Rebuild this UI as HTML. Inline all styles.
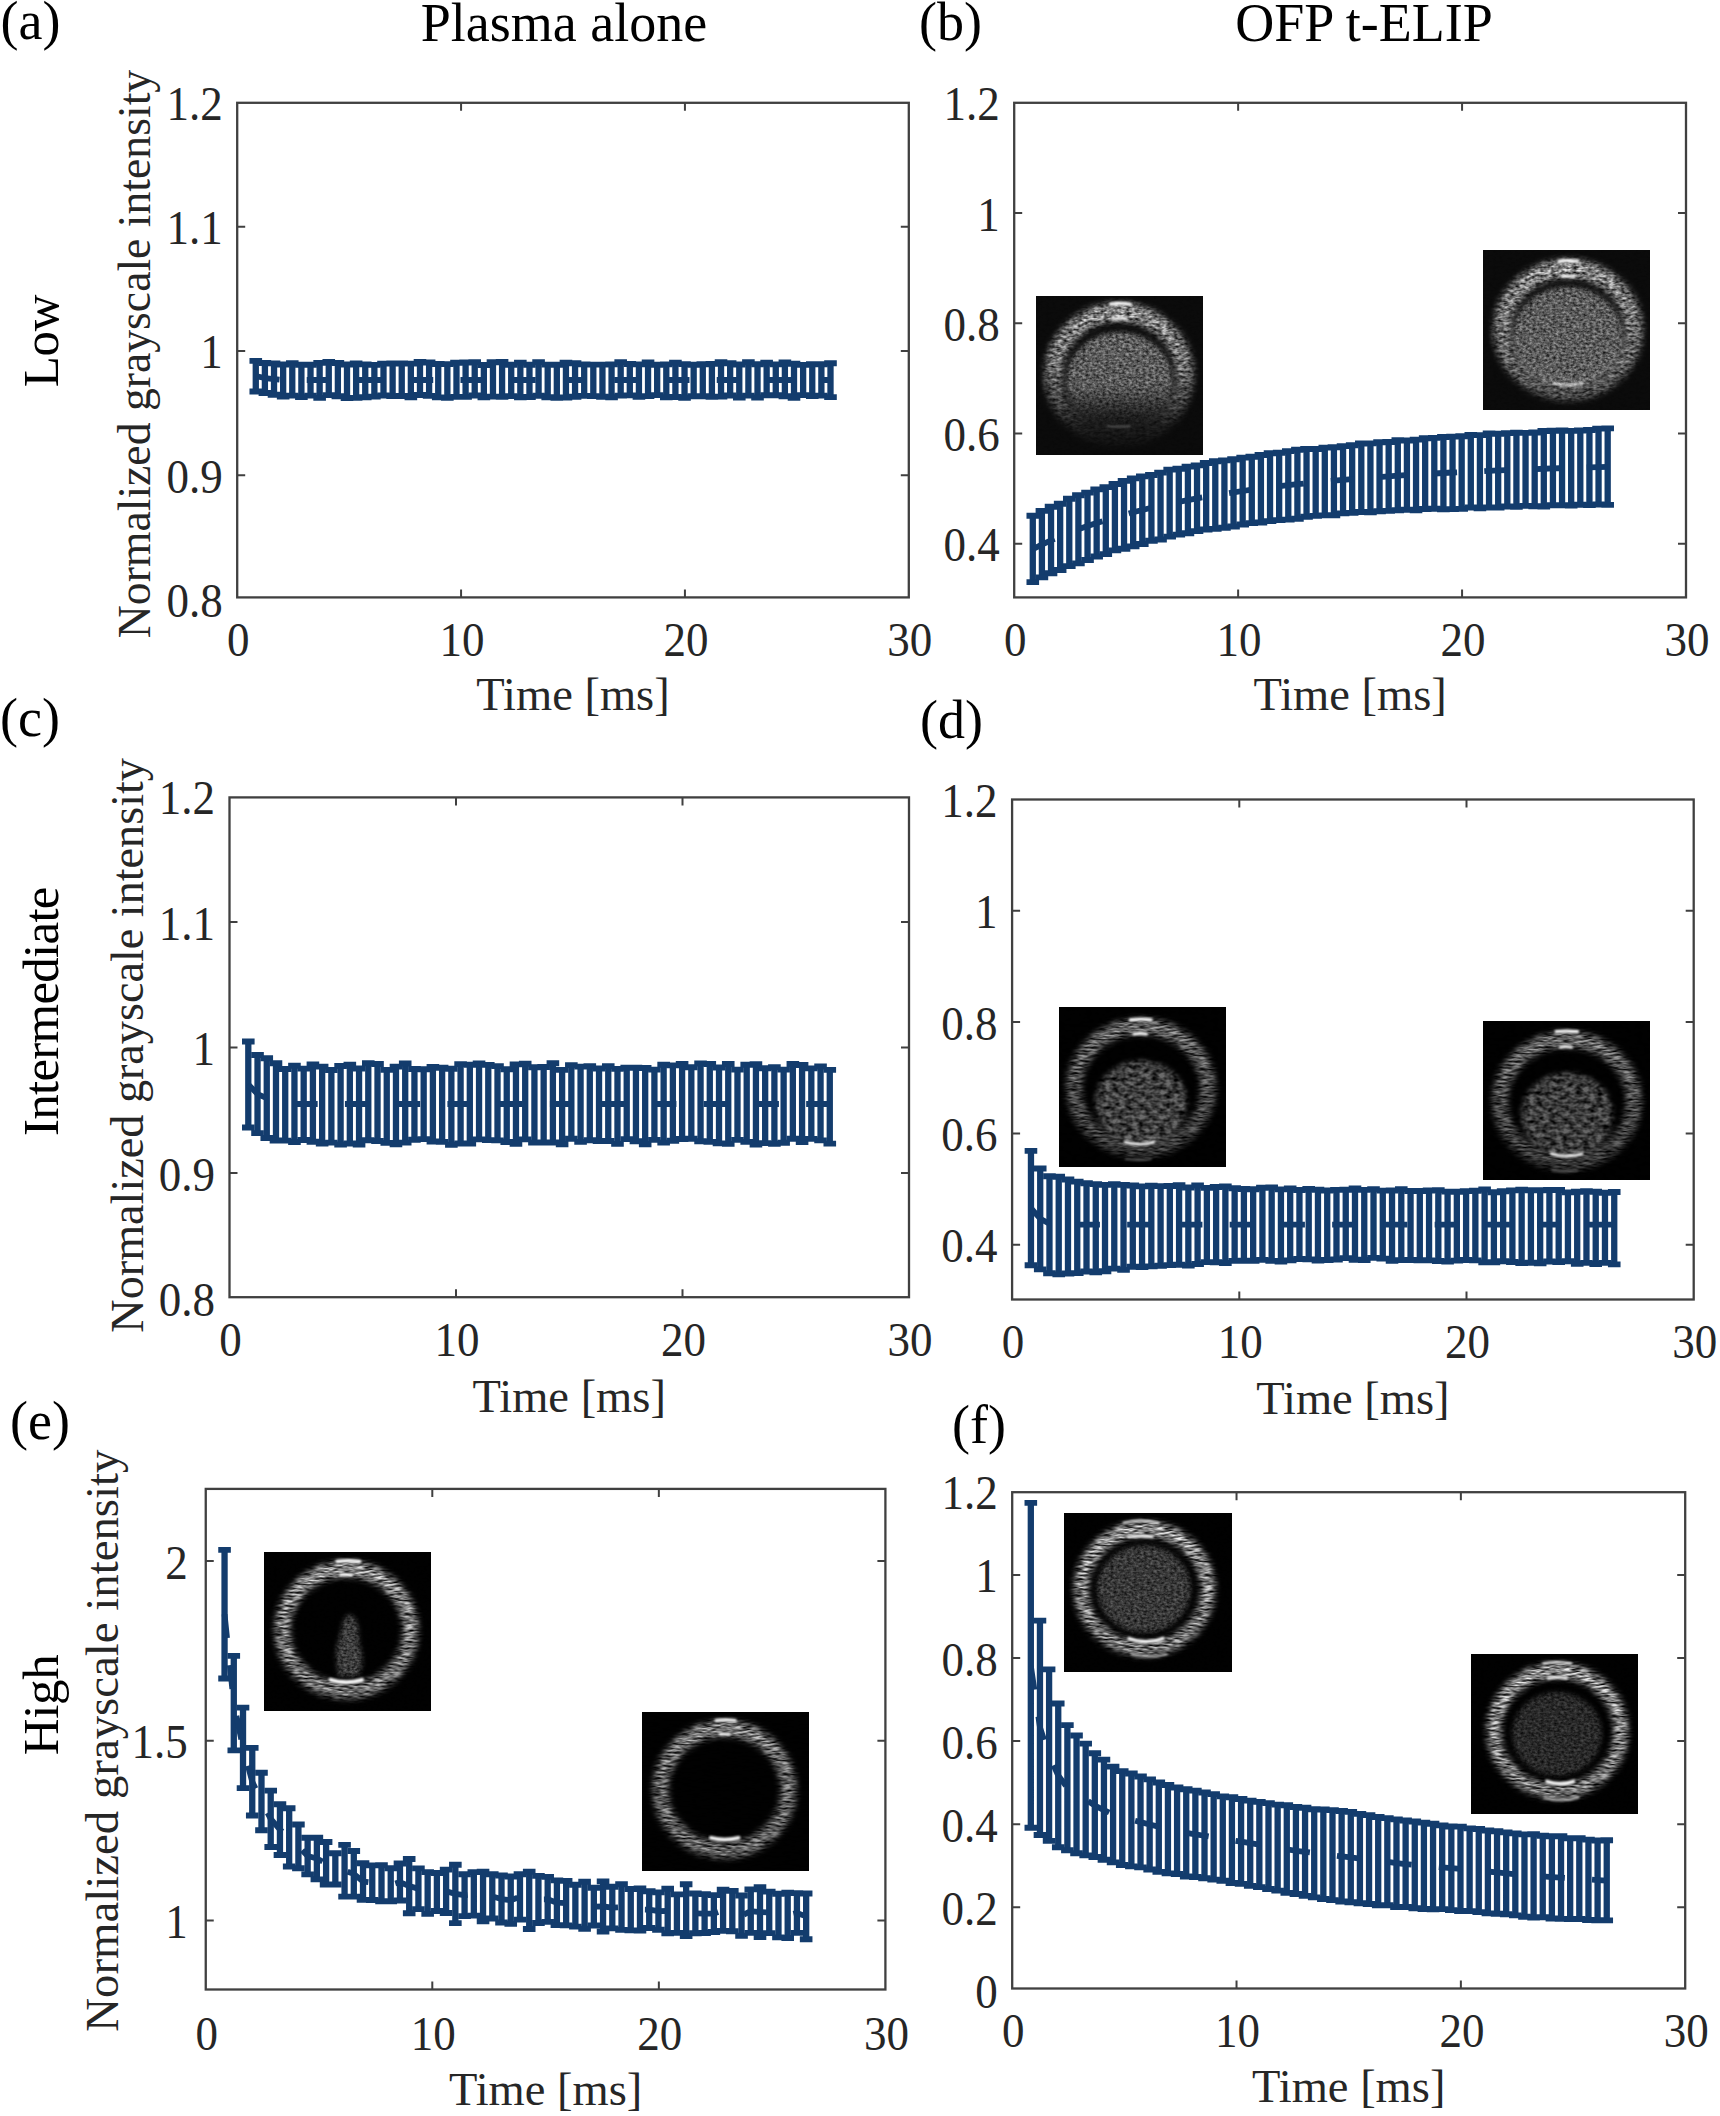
<!DOCTYPE html>
<html lang="en"><head><meta charset="utf-8"><title>Normalized grayscale intensity vs time</title>
<style>html,body{margin:0;padding:0;background:#fff}body{width:1720px;height:2116px;overflow:hidden}svg{display:block}text{font-family:"Liberation Serif", "DejaVu Serif", serif}</style></head><body>
<svg width="1720" height="2116" viewBox="0 0 1720 2116">
<defs>
<filter id="spkR" x="0" y="0" width="100%" height="100%" color-interpolation-filters="sRGB">
<feGaussianBlur in="SourceGraphic" stdDeviation="3.2" result="env"/>
<feTurbulence type="fractalNoise" baseFrequency="0.1 0.5" numOctaves="2" seed="7" result="n"/>
<feColorMatrix in="n" type="matrix" values="1.9 0 0 0 -0.37  1.9 0 0 0 -0.37  1.9 0 0 0 -0.37  0 0 0 0 1" result="ng"/>
<feComposite in="env" in2="ng" operator="arithmetic" k1="1" k2="0" k3="0" k4="0" result="m"/>
<feGaussianBlur in="m" stdDeviation="0.45"/>
</filter>
<filter id="spkG" x="0" y="0" width="100%" height="100%" color-interpolation-filters="sRGB">
<feGaussianBlur in="SourceGraphic" stdDeviation="3.0" result="env"/>
<feTurbulence type="fractalNoise" baseFrequency="0.19 0.36" numOctaves="2" seed="11" result="n"/>
<feColorMatrix in="n" type="matrix" values="1.5 0 0 0 -0.17  1.5 0 0 0 -0.17  1.5 0 0 0 -0.17  0 0 0 0 1" result="ng"/>
<feComposite in="env" in2="ng" operator="arithmetic" k1="1" k2="0" k3="0" k4="0" result="m"/>
<feGaussianBlur in="m" stdDeviation="0.5"/>
</filter>
<filter id="spkC" x="0" y="0" width="100%" height="100%" color-interpolation-filters="sRGB">
<feGaussianBlur in="SourceGraphic" stdDeviation="2.8" result="env"/>
<feTurbulence type="fractalNoise" baseFrequency="0.15 0.24" numOctaves="2" seed="23" result="n"/>
<feColorMatrix in="n" type="matrix" values="1.7 0 0 0 -0.27  1.7 0 0 0 -0.27  1.7 0 0 0 -0.27  0 0 0 0 1" result="ng"/>
<feComposite in="env" in2="ng" operator="arithmetic" k1="1" k2="0" k3="0" k4="0" result="m"/>
<feGaussianBlur in="m" stdDeviation="0.5"/>
</filter>
<filter id="spkL" x="0" y="0" width="100%" height="100%" color-interpolation-filters="sRGB">
<feGaussianBlur in="SourceGraphic" stdDeviation="2.6" result="env"/>
<feTurbulence type="fractalNoise" baseFrequency="0.3 0.42" numOctaves="2" seed="19" result="n"/>
<feColorMatrix in="n" type="matrix" values="1.25 0 0 0 -0.05  1.25 0 0 0 -0.05  1.25 0 0 0 -0.05  0 0 0 0 1" result="ng"/>
<feComposite in="env" in2="ng" operator="arithmetic" k1="1" k2="0" k3="0" k4="0" result="m"/>
<feGaussianBlur in="m" stdDeviation="0.5"/>
</filter>
<filter id="hl" x="-10%" y="-10%" width="120%" height="120%" color-interpolation-filters="sRGB">
<feGaussianBlur stdDeviation="0.9"/>
</filter>
<linearGradient id="fadeB" x1="0" y1="0" x2="0" y2="1">
<stop offset="0" stop-color="#000" stop-opacity="0"/>
<stop offset="0.55" stop-color="#000" stop-opacity="0"/>
<stop offset="1" stop-color="#000" stop-opacity="0.85"/>
</linearGradient>
<linearGradient id="fadeB2" x1="0" y1="0" x2="0" y2="1">
<stop offset="0" stop-color="#000" stop-opacity="0"/>
<stop offset="1" stop-color="#000" stop-opacity="0.9"/>
</linearGradient>
</defs>
<rect width="1720" height="2116" fill="#fff"/>
<text x="564" y="41" font-size="54" fill="#000" text-anchor="middle">Plasma alone</text>
<text x="1364" y="41" font-size="54" fill="#000" text-anchor="middle">OFP t-ELIP</text>
<text transform="translate(58.2 387.3) rotate(-90)" font-size="51" fill="#000" letter-spacing="-0.3">Low</text>
<text transform="translate(58.2 1136) rotate(-90)" font-size="51" fill="#000" letter-spacing="-0.75">Intermediate</text>
<text transform="translate(58.2 1755.3) rotate(-90)" font-size="51" fill="#000" letter-spacing="-0.3">High</text>
<g id="panel-a">
<path d="M255.78 360.88V391.45M264.90 362.99V393.06M274.03 363.36V394.80M283.15 364.43V396.51M292.27 363.10V395.67M301.39 364.70V397.13M310.52 364.71V395.62M319.64 362.91V397.91M328.76 362.05V395.15M337.88 363.03V396.20M347.01 364.51V397.99M356.13 363.40V397.85M365.25 364.41V397.31M374.37 364.89V396.65M383.50 363.67V395.52M392.62 363.43V396.12M401.74 363.49V396.06M410.86 363.62V397.20M419.99 362.00V395.06M429.11 362.47V395.92M438.23 364.04V397.35M447.35 364.12V397.82M456.48 362.69V396.84M465.60 362.45V396.88M474.72 362.12V395.50M483.85 364.98V397.41M492.97 362.27V396.63M502.09 362.06V396.85M511.21 364.76V396.15M520.34 362.66V397.23M529.46 364.72V397.04M538.58 362.10V395.77M547.70 364.63V397.30M556.83 364.68V397.85M565.95 362.60V397.50M575.07 363.31V396.70M584.19 364.41V395.85M593.32 364.59V396.11M602.44 364.63V396.78M611.56 364.34V397.23M620.68 362.08V395.64M629.81 364.07V395.39M638.93 364.35V396.86M648.05 362.43V396.12M657.17 364.68V395.08M666.30 364.34V397.26M675.42 362.68V397.05M684.54 364.10V397.81M693.66 364.71V396.29M702.79 364.25V396.24M711.91 363.87V396.68M721.03 362.12V396.59M730.15 363.27V395.45M739.28 364.43V397.57M748.40 362.27V395.59M757.52 364.24V397.47M766.64 362.77V395.23M775.77 364.39V395.20M784.89 362.35V396.23M794.01 363.72V397.72M803.13 364.86V395.16M812.26 364.27V395.93M821.38 364.21V395.58M830.50 363.20V397.16" fill="none" stroke="#133c6d" stroke-width="6.3"/>
<path d="M249.48 360.88h12.6M249.48 391.45h12.6M258.60 362.99h12.6M258.60 393.06h12.6M267.73 363.36h12.6M267.73 394.80h12.6M276.85 364.43h12.6M276.85 396.51h12.6M285.97 363.10h12.6M285.97 395.67h12.6M295.09 364.70h12.6M295.09 397.13h12.6M304.22 364.71h12.6M304.22 395.62h12.6M313.34 362.91h12.6M313.34 397.91h12.6M322.46 362.05h12.6M322.46 395.15h12.6M331.58 363.03h12.6M331.58 396.20h12.6M340.71 364.51h12.6M340.71 397.99h12.6M349.83 363.40h12.6M349.83 397.85h12.6M358.95 364.41h12.6M358.95 397.31h12.6M368.07 364.89h12.6M368.07 396.65h12.6M377.20 363.67h12.6M377.20 395.52h12.6M386.32 363.43h12.6M386.32 396.12h12.6M395.44 363.49h12.6M395.44 396.06h12.6M404.56 363.62h12.6M404.56 397.20h12.6M413.69 362.00h12.6M413.69 395.06h12.6M422.81 362.47h12.6M422.81 395.92h12.6M431.93 364.04h12.6M431.93 397.35h12.6M441.05 364.12h12.6M441.05 397.82h12.6M450.18 362.69h12.6M450.18 396.84h12.6M459.30 362.45h12.6M459.30 396.88h12.6M468.42 362.12h12.6M468.42 395.50h12.6M477.55 364.98h12.6M477.55 397.41h12.6M486.67 362.27h12.6M486.67 396.63h12.6M495.79 362.06h12.6M495.79 396.85h12.6M504.91 364.76h12.6M504.91 396.15h12.6M514.04 362.66h12.6M514.04 397.23h12.6M523.16 364.72h12.6M523.16 397.04h12.6M532.28 362.10h12.6M532.28 395.77h12.6M541.40 364.63h12.6M541.40 397.30h12.6M550.53 364.68h12.6M550.53 397.85h12.6M559.65 362.60h12.6M559.65 397.50h12.6M568.77 363.31h12.6M568.77 396.70h12.6M577.89 364.41h12.6M577.89 395.85h12.6M587.02 364.59h12.6M587.02 396.11h12.6M596.14 364.63h12.6M596.14 396.78h12.6M605.26 364.34h12.6M605.26 397.23h12.6M614.38 362.08h12.6M614.38 395.64h12.6M623.51 364.07h12.6M623.51 395.39h12.6M632.63 364.35h12.6M632.63 396.86h12.6M641.75 362.43h12.6M641.75 396.12h12.6M650.87 364.68h12.6M650.87 395.08h12.6M660.00 364.34h12.6M660.00 397.26h12.6M669.12 362.68h12.6M669.12 397.05h12.6M678.24 364.10h12.6M678.24 397.81h12.6M687.36 364.71h12.6M687.36 396.29h12.6M696.49 364.25h12.6M696.49 396.24h12.6M705.61 363.87h12.6M705.61 396.68h12.6M714.73 362.12h12.6M714.73 396.59h12.6M723.85 363.27h12.6M723.85 395.45h12.6M732.98 364.43h12.6M732.98 397.57h12.6M742.10 362.27h12.6M742.10 395.59h12.6M751.22 364.24h12.6M751.22 397.47h12.6M760.34 362.77h12.6M760.34 395.23h12.6M769.47 364.39h12.6M769.47 395.20h12.6M778.59 362.35h12.6M778.59 396.23h12.6M787.71 363.72h12.6M787.71 397.72h12.6M796.83 364.86h12.6M796.83 395.16h12.6M805.96 364.27h12.6M805.96 395.93h12.6M815.08 364.21h12.6M815.08 395.58h12.6M824.20 363.20h12.6M824.20 397.16h12.6" fill="none" stroke="#133c6d" stroke-width="5.9"/>
<polyline points="255.78,376.16 264.90,378.03 274.03,379.14 283.15,380.01 292.27,380.01 301.39,380.01 310.52,380.01 319.64,380.01 328.76,380.01 337.88,380.01 347.01,380.01 356.13,380.01 365.25,380.01 374.37,380.01 383.50,380.01 392.62,380.01 401.74,380.01 410.86,380.01 419.99,380.01 429.11,380.01 438.23,380.01 447.35,380.01 456.48,380.01 465.60,380.01 474.72,380.01 483.85,380.01 492.97,380.01 502.09,380.01 511.21,380.01 520.34,380.01 529.46,380.01 538.58,380.01 547.70,380.01 556.83,380.01 565.95,380.01 575.07,380.01 584.19,380.01 593.32,380.01 602.44,380.01 611.56,380.01 620.68,380.01 629.81,380.01 638.93,380.01 648.05,380.01 657.17,380.01 666.30,380.01 675.42,380.01 684.54,380.01 693.66,380.01 702.79,380.01 711.91,380.01 721.03,380.01 730.15,380.01 739.28,380.01 748.40,380.01 757.52,380.01 766.64,380.01 775.77,380.01 784.89,380.01 794.01,380.01 803.13,380.01 812.26,380.01 821.38,380.01 830.50,380.01" fill="none" stroke="#133c6d" stroke-width="5.8" stroke-dasharray="24 27.25" stroke-linejoin="round"/>
<rect x="237.2" y="102.8" width="671.5999999999999" height="494.59999999999997" fill="none" stroke="#404040" stroke-width="2.3"/>
<path d="M461.07 597.4v-8M461.07 102.8v8M684.93 597.4v-8M684.93 102.8v8M237.2 475.19h8M908.8 475.19h-8M237.2 350.94h8M908.8 350.94h-8M237.2 226.68h8M908.8 226.68h-8" fill="none" stroke="#404040" stroke-width="2"/>
<g font-size="45" fill="#262626">
<text transform="translate(238.2 655.9) scale(1 1.1)" text-anchor="middle">0</text>
<text transform="translate(462.1 655.9) scale(1 1.1)" text-anchor="middle">10</text>
<text transform="translate(685.9 655.9) scale(1 1.1)" text-anchor="middle">20</text>
<text transform="translate(909.8 655.9) scale(1 1.1)" text-anchor="middle">30</text>
<text transform="translate(222.7 617.0) scale(1 1.1)" text-anchor="end">0.8</text>
<text transform="translate(222.7 492.7) scale(1 1.1)" text-anchor="end">0.9</text>
<text transform="translate(222.7 368.4) scale(1 1.1)" text-anchor="end">1</text>
<text transform="translate(222.7 244.2) scale(1 1.1)" text-anchor="end">1.1</text>
<text transform="translate(222.7 119.9) scale(1 1.1)" text-anchor="end">1.2</text>
</g>
<text x="573.0" y="710.4" font-size="46.5" fill="#262626" text-anchor="middle">Time [ms]</text>
<text transform="translate(149.5 354.0) rotate(-90)" font-size="45.7" fill="#262626" text-anchor="middle">Normalized grayscale intensity</text>
<text x="0.5" y="39" font-size="54" fill="#000">(a)</text>
</g>
<g id="panel-b">
<path d="M1032.79 515.68V582.12M1041.91 510.92V577.41M1051.04 506.76V573.29M1060.16 503.72V570.00M1069.29 498.78V566.11M1078.41 495.32V563.39M1087.54 492.58V559.98M1096.66 489.36V556.51M1105.79 487.13V554.11M1114.91 484.06V550.41M1124.04 480.85V548.79M1133.16 478.38V546.34M1142.29 476.33V544.00M1151.42 474.97V540.78M1160.54 472.63V539.54M1169.67 469.65V536.66M1178.79 468.72V534.63M1187.92 466.63V533.19M1197.04 465.36V531.14M1206.17 463.06V529.53M1215.29 461.20V528.92M1224.42 460.39V527.68M1233.54 459.24V526.46M1242.67 457.65V524.47M1251.79 456.73V523.14M1260.92 455.03V522.47M1270.04 453.19V521.13M1279.17 452.71V520.08M1288.29 451.10V519.63M1297.42 449.69V518.72M1306.54 448.98V516.72M1315.67 448.99V515.92M1324.80 447.60V515.37M1333.92 447.19V515.28M1343.05 446.12V513.33M1352.17 445.29V512.87M1361.30 443.45V512.03M1370.42 443.34V512.29M1379.55 442.24V511.26M1388.67 441.96V510.84M1397.80 440.25V510.27M1406.92 440.48V509.76M1416.05 439.65V510.19M1425.17 438.24V509.07M1434.30 437.89V508.74M1443.42 436.94V509.25M1452.55 436.58V509.14M1461.67 436.25V508.92M1470.80 434.91V507.46M1479.93 435.10V508.39M1489.05 433.51V507.45M1498.18 433.80V507.55M1507.30 433.09V506.50M1516.43 432.82V506.78M1525.55 432.92V505.88M1534.68 432.53V506.22M1543.80 431.06V506.48M1552.93 430.81V505.19M1562.05 430.56V505.22M1571.18 430.88V505.50M1580.30 430.47V504.79M1589.43 429.93V505.15M1598.55 428.65V504.48M1607.68 428.36V504.86" fill="none" stroke="#133c6d" stroke-width="6.3"/>
<path d="M1026.49 515.68h12.6M1026.49 582.12h12.6M1035.61 510.92h12.6M1035.61 577.41h12.6M1044.74 506.76h12.6M1044.74 573.29h12.6M1053.86 503.72h12.6M1053.86 570.00h12.6M1062.99 498.78h12.6M1062.99 566.11h12.6M1072.11 495.32h12.6M1072.11 563.39h12.6M1081.24 492.58h12.6M1081.24 559.98h12.6M1090.36 489.36h12.6M1090.36 556.51h12.6M1099.49 487.13h12.6M1099.49 554.11h12.6M1108.61 484.06h12.6M1108.61 550.41h12.6M1117.74 480.85h12.6M1117.74 548.79h12.6M1126.86 478.38h12.6M1126.86 546.34h12.6M1135.99 476.33h12.6M1135.99 544.00h12.6M1145.12 474.97h12.6M1145.12 540.78h12.6M1154.24 472.63h12.6M1154.24 539.54h12.6M1163.37 469.65h12.6M1163.37 536.66h12.6M1172.49 468.72h12.6M1172.49 534.63h12.6M1181.62 466.63h12.6M1181.62 533.19h12.6M1190.74 465.36h12.6M1190.74 531.14h12.6M1199.87 463.06h12.6M1199.87 529.53h12.6M1208.99 461.20h12.6M1208.99 528.92h12.6M1218.12 460.39h12.6M1218.12 527.68h12.6M1227.24 459.24h12.6M1227.24 526.46h12.6M1236.37 457.65h12.6M1236.37 524.47h12.6M1245.49 456.73h12.6M1245.49 523.14h12.6M1254.62 455.03h12.6M1254.62 522.47h12.6M1263.74 453.19h12.6M1263.74 521.13h12.6M1272.87 452.71h12.6M1272.87 520.08h12.6M1281.99 451.10h12.6M1281.99 519.63h12.6M1291.12 449.69h12.6M1291.12 518.72h12.6M1300.24 448.98h12.6M1300.24 516.72h12.6M1309.37 448.99h12.6M1309.37 515.92h12.6M1318.50 447.60h12.6M1318.50 515.37h12.6M1327.62 447.19h12.6M1327.62 515.28h12.6M1336.75 446.12h12.6M1336.75 513.33h12.6M1345.87 445.29h12.6M1345.87 512.87h12.6M1355.00 443.45h12.6M1355.00 512.03h12.6M1364.12 443.34h12.6M1364.12 512.29h12.6M1373.25 442.24h12.6M1373.25 511.26h12.6M1382.37 441.96h12.6M1382.37 510.84h12.6M1391.50 440.25h12.6M1391.50 510.27h12.6M1400.62 440.48h12.6M1400.62 509.76h12.6M1409.75 439.65h12.6M1409.75 510.19h12.6M1418.87 438.24h12.6M1418.87 509.07h12.6M1428.00 437.89h12.6M1428.00 508.74h12.6M1437.12 436.94h12.6M1437.12 509.25h12.6M1446.25 436.58h12.6M1446.25 509.14h12.6M1455.37 436.25h12.6M1455.37 508.92h12.6M1464.50 434.91h12.6M1464.50 507.46h12.6M1473.63 435.10h12.6M1473.63 508.39h12.6M1482.75 433.51h12.6M1482.75 507.45h12.6M1491.88 433.80h12.6M1491.88 507.55h12.6M1501.00 433.09h12.6M1501.00 506.50h12.6M1510.13 432.82h12.6M1510.13 506.78h12.6M1519.25 432.92h12.6M1519.25 505.88h12.6M1528.38 432.53h12.6M1528.38 506.22h12.6M1537.50 431.06h12.6M1537.50 506.48h12.6M1546.63 430.81h12.6M1546.63 505.19h12.6M1555.75 430.56h12.6M1555.75 505.22h12.6M1564.88 430.88h12.6M1564.88 505.50h12.6M1574.00 430.47h12.6M1574.00 504.79h12.6M1583.13 429.93h12.6M1583.13 505.15h12.6M1592.25 428.65h12.6M1592.25 504.48h12.6M1601.38 428.36h12.6M1601.38 504.86h12.6" fill="none" stroke="#133c6d" stroke-width="5.9"/>
<polyline points="1032.79,549.14 1041.91,544.66 1051.04,540.46 1060.16,536.53 1069.29,532.83 1078.41,529.36 1087.54,526.09 1096.66,523.01 1105.79,520.11 1114.91,517.36 1124.04,514.77 1133.16,512.32 1142.29,509.99 1151.42,507.79 1160.54,505.70 1169.67,503.72 1178.79,501.84 1187.92,500.05 1197.04,498.35 1206.17,496.73 1215.29,495.19 1224.42,493.72 1233.54,492.33 1242.67,491.00 1251.79,489.73 1260.92,488.52 1270.04,487.36 1279.17,486.26 1288.29,485.21 1297.42,484.20 1306.54,483.24 1315.67,482.33 1324.80,481.45 1333.92,480.61 1343.05,479.81 1352.17,479.05 1361.30,478.32 1370.42,477.62 1379.55,476.95 1388.67,476.31 1397.80,475.69 1406.92,475.11 1416.05,474.54 1425.17,474.01 1434.30,473.49 1443.42,473.00 1452.55,472.52 1461.67,472.07 1470.80,471.64 1479.93,471.22 1489.05,470.82 1498.18,470.44 1507.30,470.07 1516.43,469.72 1525.55,469.38 1534.68,469.06 1543.80,468.75 1552.93,468.45 1562.05,468.17 1571.18,467.89 1580.30,467.63 1589.43,467.37 1598.55,467.13 1607.68,466.89" fill="none" stroke="#133c6d" stroke-width="5.8" stroke-dasharray="24 27.25" stroke-linejoin="round"/>
<rect x="1014.2" y="102.8" width="671.8" height="494.59999999999997" fill="none" stroke="#404040" stroke-width="2.3"/>
<path d="M1238.13 597.4v-8M1238.13 102.8v8M1462.07 597.4v-8M1462.07 102.8v8M1014.2 543.87h8M1686 543.87h-8M1014.2 433.60h8M1686 433.60h-8M1014.2 323.33h8M1686 323.33h-8M1014.2 213.07h8M1686 213.07h-8" fill="none" stroke="#404040" stroke-width="2"/>
<g font-size="45" fill="#262626">
<text transform="translate(1015.2 655.9) scale(1 1.1)" text-anchor="middle">0</text>
<text transform="translate(1239.1 655.9) scale(1 1.1)" text-anchor="middle">10</text>
<text transform="translate(1463.1 655.9) scale(1 1.1)" text-anchor="middle">20</text>
<text transform="translate(1687.0 655.9) scale(1 1.1)" text-anchor="middle">30</text>
<text transform="translate(999.7 561.4) scale(1 1.1)" text-anchor="end">0.4</text>
<text transform="translate(999.7 451.1) scale(1 1.1)" text-anchor="end">0.6</text>
<text transform="translate(999.7 340.8) scale(1 1.1)" text-anchor="end">0.8</text>
<text transform="translate(999.7 230.6) scale(1 1.1)" text-anchor="end">1</text>
<text transform="translate(999.7 120.3) scale(1 1.1)" text-anchor="end">1.2</text>
</g>
<text x="1350.1" y="710.4" font-size="46.5" fill="#262626" text-anchor="middle">Time [ms]</text>
<text x="919" y="40" font-size="54" fill="#000">(b)</text>
</g>
<g id="panel-c">
<path d="M248.30 1041.49V1127.48M257.53 1054.99V1133.08M266.76 1058.19V1138.07M275.99 1063.19V1140.57M285.22 1068.95V1140.61M294.45 1065.71V1141.93M303.68 1068.60V1139.97M312.91 1064.51V1141.72M322.14 1066.60V1143.46M331.37 1070.07V1142.61M340.60 1066.05V1144.50M349.83 1064.61V1143.48M359.06 1068.48V1144.67M368.29 1063.20V1140.30M377.52 1064.05V1141.07M386.75 1069.85V1142.87M395.98 1066.65V1144.21M405.21 1063.52V1142.63M414.44 1069.02V1139.81M423.67 1069.23V1139.12M432.90 1066.96V1141.48M442.13 1067.72V1141.90M451.36 1068.80V1144.71M460.59 1064.11V1143.46M469.82 1064.70V1143.63M479.05 1063.40V1139.33M488.28 1064.88V1140.15M497.51 1066.08V1140.36M506.74 1069.24V1141.95M515.97 1064.38V1143.68M525.20 1063.72V1139.37M534.43 1067.26V1142.65M543.66 1066.97V1142.52M552.89 1063.22V1142.51M562.12 1069.90V1144.35M571.35 1065.13V1138.71M580.57 1066.66V1141.85M589.80 1066.29V1140.24M599.03 1068.56V1141.12M608.26 1066.25V1141.03M617.49 1068.84V1143.87M626.72 1067.68V1139.12M635.95 1067.70V1141.19M645.18 1067.97V1144.29M654.41 1069.63V1139.83M663.64 1064.73V1142.59M672.87 1065.37V1140.70M682.10 1063.89V1138.93M691.33 1067.28V1138.73M700.56 1063.45V1141.23M709.79 1063.99V1141.86M719.02 1067.50V1143.39M728.25 1064.04V1143.92M737.48 1069.61V1139.89M746.71 1064.75V1141.91M755.94 1064.31V1144.61M765.17 1068.31V1143.12M774.40 1067.19V1143.87M783.63 1069.61V1142.82M792.86 1063.88V1138.77M802.09 1064.94V1141.93M811.32 1068.35V1138.92M820.55 1066.46V1140.37M829.78 1069.89V1143.61" fill="none" stroke="#133c6d" stroke-width="6.3"/>
<path d="M242.00 1041.49h12.6M242.00 1127.48h12.6M251.23 1054.99h12.6M251.23 1133.08h12.6M260.46 1058.19h12.6M260.46 1138.07h12.6M269.69 1063.19h12.6M269.69 1140.57h12.6M278.92 1068.95h12.6M278.92 1140.61h12.6M288.15 1065.71h12.6M288.15 1141.93h12.6M297.38 1068.60h12.6M297.38 1139.97h12.6M306.61 1064.51h12.6M306.61 1141.72h12.6M315.84 1066.60h12.6M315.84 1143.46h12.6M325.07 1070.07h12.6M325.07 1142.61h12.6M334.30 1066.05h12.6M334.30 1144.50h12.6M343.53 1064.61h12.6M343.53 1143.48h12.6M352.76 1068.48h12.6M352.76 1144.67h12.6M361.99 1063.20h12.6M361.99 1140.30h12.6M371.22 1064.05h12.6M371.22 1141.07h12.6M380.45 1069.85h12.6M380.45 1142.87h12.6M389.68 1066.65h12.6M389.68 1144.21h12.6M398.91 1063.52h12.6M398.91 1142.63h12.6M408.14 1069.02h12.6M408.14 1139.81h12.6M417.37 1069.23h12.6M417.37 1139.12h12.6M426.60 1066.96h12.6M426.60 1141.48h12.6M435.83 1067.72h12.6M435.83 1141.90h12.6M445.06 1068.80h12.6M445.06 1144.71h12.6M454.29 1064.11h12.6M454.29 1143.46h12.6M463.52 1064.70h12.6M463.52 1143.63h12.6M472.75 1063.40h12.6M472.75 1139.33h12.6M481.98 1064.88h12.6M481.98 1140.15h12.6M491.21 1066.08h12.6M491.21 1140.36h12.6M500.44 1069.24h12.6M500.44 1141.95h12.6M509.67 1064.38h12.6M509.67 1143.68h12.6M518.90 1063.72h12.6M518.90 1139.37h12.6M528.13 1067.26h12.6M528.13 1142.65h12.6M537.36 1066.97h12.6M537.36 1142.52h12.6M546.59 1063.22h12.6M546.59 1142.51h12.6M555.82 1069.90h12.6M555.82 1144.35h12.6M565.05 1065.13h12.6M565.05 1138.71h12.6M574.27 1066.66h12.6M574.27 1141.85h12.6M583.50 1066.29h12.6M583.50 1140.24h12.6M592.73 1068.56h12.6M592.73 1141.12h12.6M601.96 1066.25h12.6M601.96 1141.03h12.6M611.19 1068.84h12.6M611.19 1143.87h12.6M620.42 1067.68h12.6M620.42 1139.12h12.6M629.65 1067.70h12.6M629.65 1141.19h12.6M638.88 1067.97h12.6M638.88 1144.29h12.6M648.11 1069.63h12.6M648.11 1139.83h12.6M657.34 1064.73h12.6M657.34 1142.59h12.6M666.57 1065.37h12.6M666.57 1140.70h12.6M675.80 1063.89h12.6M675.80 1138.93h12.6M685.03 1067.28h12.6M685.03 1138.73h12.6M694.26 1063.45h12.6M694.26 1141.23h12.6M703.49 1063.99h12.6M703.49 1141.86h12.6M712.72 1067.50h12.6M712.72 1143.39h12.6M721.95 1064.04h12.6M721.95 1143.92h12.6M731.18 1069.61h12.6M731.18 1139.89h12.6M740.41 1064.75h12.6M740.41 1141.91h12.6M749.64 1064.31h12.6M749.64 1144.61h12.6M758.87 1068.31h12.6M758.87 1143.12h12.6M768.10 1067.19h12.6M768.10 1143.87h12.6M777.33 1069.61h12.6M777.33 1142.82h12.6M786.56 1063.88h12.6M786.56 1138.77h12.6M795.79 1064.94h12.6M795.79 1141.93h12.6M805.02 1068.35h12.6M805.02 1138.92h12.6M814.25 1066.46h12.6M814.25 1140.37h12.6M823.48 1069.89h12.6M823.48 1143.61h12.6" fill="none" stroke="#133c6d" stroke-width="5.9"/>
<polyline points="248.30,1084.49 257.53,1094.04 266.76,1098.13 275.99,1101.88 285.22,1103.98 294.45,1103.98 303.68,1103.98 312.91,1103.98 322.14,1103.98 331.37,1103.98 340.60,1103.98 349.83,1103.98 359.06,1103.98 368.29,1103.98 377.52,1103.98 386.75,1103.98 395.98,1103.98 405.21,1103.98 414.44,1103.98 423.67,1103.98 432.90,1103.98 442.13,1103.98 451.36,1103.98 460.59,1103.98 469.82,1103.98 479.05,1103.98 488.28,1103.98 497.51,1103.98 506.74,1103.98 515.97,1103.98 525.20,1103.98 534.43,1103.98 543.66,1103.98 552.89,1103.98 562.12,1103.98 571.35,1103.98 580.57,1103.98 589.80,1103.98 599.03,1103.98 608.26,1103.98 617.49,1103.98 626.72,1103.98 635.95,1103.98 645.18,1103.98 654.41,1103.98 663.64,1103.98 672.87,1103.98 682.10,1103.98 691.33,1103.98 700.56,1103.98 709.79,1103.98 719.02,1103.98 728.25,1103.98 737.48,1103.98 746.71,1103.98 755.94,1103.98 765.17,1103.98 774.40,1103.98 783.63,1103.98 792.86,1103.98 802.09,1103.98 811.32,1103.98 820.55,1103.98 829.78,1103.98" fill="none" stroke="#133c6d" stroke-width="5.8" stroke-dasharray="24 27.25" stroke-linejoin="round"/>
<rect x="229.5" y="797.4" width="679.5" height="499.80000000000007" fill="none" stroke="#404040" stroke-width="2.3"/>
<path d="M456.00 1297.2v-8M456.00 797.4v8M682.50 1297.2v-8M682.50 797.4v8M229.5 1172.97h8M909 1172.97h-8M229.5 1047.49h8M909 1047.49h-8M229.5 922.00h8M909 922.00h-8" fill="none" stroke="#404040" stroke-width="2"/>
<g font-size="45" fill="#262626">
<text transform="translate(230.5 1355.7) scale(1 1.1)" text-anchor="middle">0</text>
<text transform="translate(457.0 1355.7) scale(1 1.1)" text-anchor="middle">10</text>
<text transform="translate(683.5 1355.7) scale(1 1.1)" text-anchor="middle">20</text>
<text transform="translate(910.0 1355.7) scale(1 1.1)" text-anchor="middle">30</text>
<text transform="translate(215.0 1316.0) scale(1 1.1)" text-anchor="end">0.8</text>
<text transform="translate(215.0 1190.5) scale(1 1.1)" text-anchor="end">0.9</text>
<text transform="translate(215.0 1065.0) scale(1 1.1)" text-anchor="end">1</text>
<text transform="translate(215.0 939.5) scale(1 1.1)" text-anchor="end">1.1</text>
<text transform="translate(215.0 814.0) scale(1 1.1)" text-anchor="end">1.2</text>
</g>
<text x="569.2" y="1411.7" font-size="46.5" fill="#262626" text-anchor="middle">Time [ms]</text>
<text transform="translate(142.7 1045.4) rotate(-90)" font-size="46.2" fill="#262626" text-anchor="middle">Normalized grayscale intensity</text>
<text x="0" y="736" font-size="54" fill="#000">(c)</text>
</g>
<g id="panel-d">
<path d="M1030.96 1150.84V1265.21M1040.22 1168.44V1269.42M1049.47 1176.19V1273.18M1058.73 1176.74V1274.41M1067.99 1179.45V1273.50M1077.25 1181.66V1273.16M1086.51 1183.30V1271.54M1095.77 1184.12V1272.29M1105.02 1184.84V1271.29M1114.28 1184.30V1268.62M1123.54 1184.91V1269.90M1132.80 1185.57V1266.76M1142.06 1186.38V1267.16M1151.32 1185.77V1266.41M1160.58 1186.14V1265.69M1169.83 1185.96V1265.17M1179.09 1185.10V1264.73M1188.35 1187.47V1265.62M1197.61 1185.50V1263.94M1206.87 1187.86V1262.17M1216.13 1187.05V1262.27M1225.38 1186.47V1263.01M1234.64 1188.19V1260.86M1243.90 1189.00V1260.81M1253.16 1189.23V1260.79M1262.42 1187.68V1259.84M1271.68 1187.41V1260.86M1280.93 1189.34V1261.61M1290.19 1188.54V1260.39M1299.45 1189.94V1259.06M1308.71 1188.86V1259.40M1317.97 1189.78V1260.44M1327.23 1190.49V1259.94M1336.48 1189.91V1259.49M1345.74 1189.73V1258.12M1355.00 1188.42V1259.82M1364.26 1189.89V1260.00M1373.52 1189.25V1257.91M1382.78 1190.63V1258.65M1392.04 1190.46V1260.90M1401.29 1189.27V1260.15M1410.55 1191.02V1260.04M1419.81 1190.95V1260.27M1429.07 1190.45V1260.41M1438.33 1190.16V1260.93M1447.59 1191.63V1261.65M1456.84 1191.70V1260.60M1466.10 1191.09V1259.96M1475.36 1190.76V1260.39M1484.62 1189.51V1262.34M1493.88 1192.25V1262.28M1503.14 1191.30V1261.23M1512.39 1190.37V1262.00M1521.65 1189.82V1263.13M1530.91 1190.25V1262.71M1540.17 1190.21V1263.35M1549.43 1190.03V1261.49M1558.69 1190.03V1262.14M1567.94 1192.36V1261.21M1577.20 1191.69V1263.83M1586.46 1191.30V1262.84M1595.72 1191.74V1263.94M1604.98 1192.79V1262.91M1614.24 1191.94V1264.33" fill="none" stroke="#133c6d" stroke-width="6.3"/>
<path d="M1024.66 1150.84h12.6M1024.66 1265.21h12.6M1033.92 1168.44h12.6M1033.92 1269.42h12.6M1043.17 1176.19h12.6M1043.17 1273.18h12.6M1052.43 1176.74h12.6M1052.43 1274.41h12.6M1061.69 1179.45h12.6M1061.69 1273.50h12.6M1070.95 1181.66h12.6M1070.95 1273.16h12.6M1080.21 1183.30h12.6M1080.21 1271.54h12.6M1089.47 1184.12h12.6M1089.47 1272.29h12.6M1098.72 1184.84h12.6M1098.72 1271.29h12.6M1107.98 1184.30h12.6M1107.98 1268.62h12.6M1117.24 1184.91h12.6M1117.24 1269.90h12.6M1126.50 1185.57h12.6M1126.50 1266.76h12.6M1135.76 1186.38h12.6M1135.76 1267.16h12.6M1145.02 1185.77h12.6M1145.02 1266.41h12.6M1154.28 1186.14h12.6M1154.28 1265.69h12.6M1163.53 1185.96h12.6M1163.53 1265.17h12.6M1172.79 1185.10h12.6M1172.79 1264.73h12.6M1182.05 1187.47h12.6M1182.05 1265.62h12.6M1191.31 1185.50h12.6M1191.31 1263.94h12.6M1200.57 1187.86h12.6M1200.57 1262.17h12.6M1209.83 1187.05h12.6M1209.83 1262.27h12.6M1219.08 1186.47h12.6M1219.08 1263.01h12.6M1228.34 1188.19h12.6M1228.34 1260.86h12.6M1237.60 1189.00h12.6M1237.60 1260.81h12.6M1246.86 1189.23h12.6M1246.86 1260.79h12.6M1256.12 1187.68h12.6M1256.12 1259.84h12.6M1265.38 1187.41h12.6M1265.38 1260.86h12.6M1274.63 1189.34h12.6M1274.63 1261.61h12.6M1283.89 1188.54h12.6M1283.89 1260.39h12.6M1293.15 1189.94h12.6M1293.15 1259.06h12.6M1302.41 1188.86h12.6M1302.41 1259.40h12.6M1311.67 1189.78h12.6M1311.67 1260.44h12.6M1320.93 1190.49h12.6M1320.93 1259.94h12.6M1330.18 1189.91h12.6M1330.18 1259.49h12.6M1339.44 1189.73h12.6M1339.44 1258.12h12.6M1348.70 1188.42h12.6M1348.70 1259.82h12.6M1357.96 1189.89h12.6M1357.96 1260.00h12.6M1367.22 1189.25h12.6M1367.22 1257.91h12.6M1376.48 1190.63h12.6M1376.48 1258.65h12.6M1385.74 1190.46h12.6M1385.74 1260.90h12.6M1394.99 1189.27h12.6M1394.99 1260.15h12.6M1404.25 1191.02h12.6M1404.25 1260.04h12.6M1413.51 1190.95h12.6M1413.51 1260.27h12.6M1422.77 1190.45h12.6M1422.77 1260.41h12.6M1432.03 1190.16h12.6M1432.03 1260.93h12.6M1441.29 1191.63h12.6M1441.29 1261.65h12.6M1450.54 1191.70h12.6M1450.54 1260.60h12.6M1459.80 1191.09h12.6M1459.80 1259.96h12.6M1469.06 1190.76h12.6M1469.06 1260.39h12.6M1478.32 1189.51h12.6M1478.32 1262.34h12.6M1487.58 1192.25h12.6M1487.58 1262.28h12.6M1496.84 1191.30h12.6M1496.84 1261.23h12.6M1506.09 1190.37h12.6M1506.09 1262.00h12.6M1515.35 1189.82h12.6M1515.35 1263.13h12.6M1524.61 1190.25h12.6M1524.61 1262.71h12.6M1533.87 1190.21h12.6M1533.87 1263.35h12.6M1543.13 1190.03h12.6M1543.13 1261.49h12.6M1552.39 1190.03h12.6M1552.39 1262.14h12.6M1561.64 1192.36h12.6M1561.64 1261.21h12.6M1570.90 1191.69h12.6M1570.90 1263.83h12.6M1580.16 1191.30h12.6M1580.16 1262.84h12.6M1589.42 1191.74h12.6M1589.42 1263.94h12.6M1598.68 1192.79h12.6M1598.68 1262.91h12.6M1607.94 1191.94h12.6M1607.94 1264.33h12.6" fill="none" stroke="#133c6d" stroke-width="5.9"/>
<polyline points="1030.96,1208.29 1040.22,1218.69 1049.47,1223.76 1058.73,1225.87 1067.99,1224.54 1077.25,1224.54 1086.51,1224.54 1095.77,1224.54 1105.02,1224.54 1114.28,1224.54 1123.54,1224.54 1132.80,1224.54 1142.06,1224.54 1151.32,1224.54 1160.58,1224.54 1169.83,1224.54 1179.09,1224.54 1188.35,1224.54 1197.61,1224.54 1206.87,1224.54 1216.13,1224.54 1225.38,1224.54 1234.64,1224.54 1243.90,1224.54 1253.16,1224.54 1262.42,1224.54 1271.68,1224.54 1280.93,1224.54 1290.19,1224.54 1299.45,1224.54 1308.71,1224.54 1317.97,1224.54 1327.23,1224.54 1336.48,1224.54 1345.74,1224.54 1355.00,1224.54 1364.26,1224.54 1373.52,1224.54 1382.78,1224.54 1392.04,1224.54 1401.29,1224.54 1410.55,1224.54 1419.81,1224.54 1429.07,1224.54 1438.33,1224.54 1447.59,1224.54 1456.84,1224.54 1466.10,1224.54 1475.36,1224.54 1484.62,1224.54 1493.88,1224.54 1503.14,1224.54 1512.39,1224.54 1521.65,1224.54 1530.91,1224.54 1540.17,1224.54 1549.43,1224.54 1558.69,1224.54 1567.94,1224.54 1577.20,1224.54 1586.46,1224.54 1595.72,1224.54 1604.98,1224.54 1614.24,1224.54" fill="none" stroke="#133c6d" stroke-width="5.8" stroke-dasharray="24 27.25" stroke-linejoin="round"/>
<rect x="1012.1" y="799.5" width="681.6" height="500.0" fill="none" stroke="#404040" stroke-width="2.3"/>
<path d="M1239.30 1299.5v-8M1239.30 799.5v8M1466.50 1299.5v-8M1466.50 799.5v8M1012.1 1244.69h8M1693.7 1244.69h-8M1012.1 1133.39h8M1693.7 1133.39h-8M1012.1 1022.09h8M1693.7 1022.09h-8M1012.1 910.80h8M1693.7 910.80h-8" fill="none" stroke="#404040" stroke-width="2"/>
<g font-size="45" fill="#262626">
<text transform="translate(1013.1 1358.0) scale(1 1.1)" text-anchor="middle">0</text>
<text transform="translate(1240.3 1358.0) scale(1 1.1)" text-anchor="middle">10</text>
<text transform="translate(1467.5 1358.0) scale(1 1.1)" text-anchor="middle">20</text>
<text transform="translate(1694.7 1358.0) scale(1 1.1)" text-anchor="middle">30</text>
<text transform="translate(997.6 1262.2) scale(1 1.1)" text-anchor="end">0.4</text>
<text transform="translate(997.6 1150.9) scale(1 1.1)" text-anchor="end">0.6</text>
<text transform="translate(997.6 1039.6) scale(1 1.1)" text-anchor="end">0.8</text>
<text transform="translate(997.6 928.3) scale(1 1.1)" text-anchor="end">1</text>
<text transform="translate(997.6 817.0) scale(1 1.1)" text-anchor="end">1.2</text>
</g>
<text x="1352.9" y="1414.0" font-size="46.5" fill="#262626" text-anchor="middle">Time [ms]</text>
<text x="920" y="738" font-size="54" fill="#000">(d)</text>
</g>
<g id="panel-e">
<path d="M224.55 1549.85V1678.52M233.79 1655.87V1750.40M243.02 1707.63V1788.13M252.25 1747.88V1815.45M261.48 1772.68V1830.18M270.71 1790.65V1847.07M279.95 1804.30V1854.98M289.18 1808.26V1866.48M298.41 1824.43V1868.28M307.64 1837.73V1874.39M316.87 1837.73V1879.42M326.10 1842.04V1884.45M335.34 1853.18V1884.45M344.57 1844.92V1896.67M353.80 1851.03V1896.67M363.03 1863.24V1899.90M372.26 1865.35V1899.96M381.50 1865.19V1901.31M390.73 1868.20V1901.40M399.96 1863.57V1900.51M409.19 1858.93V1913.20M418.42 1868.35V1909.14M427.66 1872.17V1913.91M436.89 1872.96V1911.02M446.12 1869.61V1912.97M455.35 1864.68V1923.13M464.58 1874.24V1916.17M473.82 1872.15V1915.58M483.05 1871.82V1921.42M492.28 1874.23V1918.52M501.51 1875.52V1922.57M510.74 1876.47V1923.88M519.97 1874.22V1919.59M529.21 1871.70V1929.01M538.44 1875.85V1922.95M547.67 1876.83V1921.83M556.90 1880.35V1925.08M566.13 1880.86V1925.41M575.37 1884.79V1926.66M584.60 1881.68V1928.79M593.83 1887.68V1925.49M603.06 1881.34V1931.65M612.29 1886.79V1928.40M621.53 1884.31V1929.89M630.76 1889.02V1930.38M639.99 1888.52V1930.44M649.22 1891.24V1927.93M658.45 1892.40V1929.69M667.69 1888.80V1933.19M676.92 1894.40V1932.90M686.15 1884.25V1935.96M695.38 1893.56V1933.31M704.61 1894.09V1933.02M713.85 1895.11V1932.01M723.08 1889.74V1930.89M732.31 1890.84V1931.22M741.54 1895.47V1935.80M750.77 1889.34V1932.90M760.00 1887.18V1937.09M769.24 1891.58V1933.11M778.47 1893.69V1937.41M787.70 1892.72V1938.01M796.93 1893.12V1932.91M806.16 1893.45V1939.32" fill="none" stroke="#133c6d" stroke-width="6.3"/>
<path d="M218.25 1549.85h12.6M218.25 1678.52h12.6M227.49 1655.87h12.6M227.49 1750.40h12.6M236.72 1707.63h12.6M236.72 1788.13h12.6M245.95 1747.88h12.6M245.95 1815.45h12.6M255.18 1772.68h12.6M255.18 1830.18h12.6M264.41 1790.65h12.6M264.41 1847.07h12.6M273.65 1804.30h12.6M273.65 1854.98h12.6M282.88 1808.26h12.6M282.88 1866.48h12.6M292.11 1824.43h12.6M292.11 1868.28h12.6M301.34 1837.73h12.6M301.34 1874.39h12.6M310.57 1837.73h12.6M310.57 1879.42h12.6M319.80 1842.04h12.6M319.80 1884.45h12.6M329.04 1853.18h12.6M329.04 1884.45h12.6M338.27 1844.92h12.6M338.27 1896.67h12.6M347.50 1851.03h12.6M347.50 1896.67h12.6M356.73 1863.24h12.6M356.73 1899.90h12.6M365.96 1865.35h12.6M365.96 1899.96h12.6M375.20 1865.19h12.6M375.20 1901.31h12.6M384.43 1868.20h12.6M384.43 1901.40h12.6M393.66 1863.57h12.6M393.66 1900.51h12.6M402.89 1858.93h12.6M402.89 1913.20h12.6M412.12 1868.35h12.6M412.12 1909.14h12.6M421.36 1872.17h12.6M421.36 1913.91h12.6M430.59 1872.96h12.6M430.59 1911.02h12.6M439.82 1869.61h12.6M439.82 1912.97h12.6M449.05 1864.68h12.6M449.05 1923.13h12.6M458.28 1874.24h12.6M458.28 1916.17h12.6M467.52 1872.15h12.6M467.52 1915.58h12.6M476.75 1871.82h12.6M476.75 1921.42h12.6M485.98 1874.23h12.6M485.98 1918.52h12.6M495.21 1875.52h12.6M495.21 1922.57h12.6M504.44 1876.47h12.6M504.44 1923.88h12.6M513.67 1874.22h12.6M513.67 1919.59h12.6M522.91 1871.70h12.6M522.91 1929.01h12.6M532.14 1875.85h12.6M532.14 1922.95h12.6M541.37 1876.83h12.6M541.37 1921.83h12.6M550.60 1880.35h12.6M550.60 1925.08h12.6M559.83 1880.86h12.6M559.83 1925.41h12.6M569.07 1884.79h12.6M569.07 1926.66h12.6M578.30 1881.68h12.6M578.30 1928.79h12.6M587.53 1887.68h12.6M587.53 1925.49h12.6M596.76 1881.34h12.6M596.76 1931.65h12.6M605.99 1886.79h12.6M605.99 1928.40h12.6M615.23 1884.31h12.6M615.23 1929.89h12.6M624.46 1889.02h12.6M624.46 1930.38h12.6M633.69 1888.52h12.6M633.69 1930.44h12.6M642.92 1891.24h12.6M642.92 1927.93h12.6M652.15 1892.40h12.6M652.15 1929.69h12.6M661.39 1888.80h12.6M661.39 1933.19h12.6M670.62 1894.40h12.6M670.62 1932.90h12.6M679.85 1884.25h12.6M679.85 1935.96h12.6M689.08 1893.56h12.6M689.08 1933.31h12.6M698.31 1894.09h12.6M698.31 1933.02h12.6M707.55 1895.11h12.6M707.55 1932.01h12.6M716.78 1889.74h12.6M716.78 1930.89h12.6M726.01 1890.84h12.6M726.01 1931.22h12.6M735.24 1895.47h12.6M735.24 1935.80h12.6M744.47 1889.34h12.6M744.47 1932.90h12.6M753.70 1887.18h12.6M753.70 1937.09h12.6M762.94 1891.58h12.6M762.94 1933.11h12.6M772.17 1893.69h12.6M772.17 1937.41h12.6M781.40 1892.72h12.6M781.40 1938.01h12.6M790.63 1893.12h12.6M790.63 1932.91h12.6M799.86 1893.45h12.6M799.86 1939.32h12.6" fill="none" stroke="#133c6d" stroke-width="5.9"/>
<polyline points="224.55,1614.18 233.79,1703.13 243.02,1747.88 252.25,1781.66 261.48,1801.43 270.71,1818.86 279.95,1829.64 289.18,1837.37 298.41,1846.35 307.64,1856.06 316.87,1858.57 326.10,1863.24 335.34,1868.82 344.57,1870.79 353.80,1873.85 363.03,1881.57 372.26,1882.66 381.50,1883.25 390.73,1884.80 399.96,1882.04 409.19,1886.07 418.42,1888.75 427.66,1893.04 436.89,1891.99 446.12,1891.29 455.35,1893.91 464.58,1895.21 473.82,1893.86 483.05,1896.62 492.28,1896.37 501.51,1899.05 510.74,1900.17 519.97,1896.90 529.21,1900.35 538.44,1899.40 547.67,1899.33 556.90,1902.72 566.13,1903.14 575.37,1905.73 584.60,1905.24 593.83,1906.59 603.06,1906.50 612.29,1907.59 621.53,1907.10 630.76,1909.70 639.99,1909.48 649.22,1909.59 658.45,1911.04 667.69,1910.99 676.92,1913.65 686.15,1910.10 695.38,1913.43 704.61,1913.55 713.85,1913.56 723.08,1910.31 732.31,1911.03 741.54,1915.64 750.77,1911.12 760.00,1912.14 769.24,1912.34 778.47,1915.55 787.70,1915.36 796.93,1913.02 806.16,1916.38" fill="none" stroke="#133c6d" stroke-width="5.8" stroke-dasharray="24 27.25" stroke-linejoin="round"/>
<rect x="205.75" y="1488.9" width="679.65" height="500.5999999999999" fill="none" stroke="#404040" stroke-width="2.3"/>
<path d="M432.30 1989.5v-8M432.30 1488.9v8M658.85 1989.5v-8M658.85 1488.9v8M205.75 1920.39h8M885.4 1920.39h-8M205.75 1740.69h8M885.4 1740.69h-8M205.75 1560.99h8M885.4 1560.99h-8" fill="none" stroke="#404040" stroke-width="2"/>
<g font-size="45" fill="#262626">
<text transform="translate(206.8 2050.0) scale(1 1.1)" text-anchor="middle">0</text>
<text transform="translate(433.3 2050.0) scale(1 1.1)" text-anchor="middle">10</text>
<text transform="translate(659.8 2050.0) scale(1 1.1)" text-anchor="middle">20</text>
<text transform="translate(886.4 2050.0) scale(1 1.1)" text-anchor="middle">30</text>
<text transform="translate(187.8 1937.9) scale(1 1.1)" text-anchor="end">1</text>
<text transform="translate(187.8 1758.2) scale(1 1.1)" text-anchor="end">1.5</text>
<text transform="translate(187.8 1578.5) scale(1 1.1)" text-anchor="end">2</text>
</g>
<text x="545.6" y="2104.5" font-size="46.5" fill="#262626" text-anchor="middle">Time [ms]</text>
<text transform="translate(118.0 1740.6) rotate(-90)" font-size="46.8" fill="#262626" text-anchor="middle">Normalized grayscale intensity</text>
<text x="10" y="1439" font-size="54" fill="#000">(e)</text>
</g>
<g id="panel-f">
<path d="M1030.82 1502.85V1827.77M1039.96 1620.60V1835.04M1049.10 1669.40V1840.83M1058.24 1703.55V1847.32M1067.39 1725.16V1850.22M1076.53 1735.57V1853.22M1085.67 1743.66V1855.37M1094.81 1753.26V1856.98M1103.95 1759.63V1859.80M1113.09 1766.62V1862.40M1122.24 1771.16V1864.96M1131.38 1773.53V1866.42M1140.52 1776.54V1867.40M1149.66 1779.39V1869.50M1158.80 1782.43V1871.86M1167.94 1785.00V1873.42M1177.09 1787.44V1874.03M1186.23 1789.28V1876.50M1195.37 1790.67V1877.03M1204.51 1792.54V1878.20M1213.65 1794.17V1879.64M1222.79 1796.34V1880.70M1231.93 1797.25V1883.03M1241.08 1798.99V1883.86M1250.22 1800.64V1885.83M1259.36 1801.90V1887.09M1268.50 1803.17V1888.95M1277.64 1804.65V1890.64M1286.78 1805.26V1892.91M1295.93 1806.96V1893.94M1305.07 1807.72V1895.84M1314.21 1809.21V1897.39M1323.35 1809.48V1898.95M1332.49 1810.08V1900.17M1341.63 1810.94V1901.48M1350.78 1811.88V1902.21M1359.92 1813.87V1903.26M1369.06 1815.10V1903.99M1378.20 1816.95V1905.27M1387.34 1818.12V1905.18M1396.48 1819.41V1907.06M1405.62 1820.54V1907.04M1414.77 1821.45V1908.28M1423.91 1822.67V1909.01M1433.05 1823.80V1909.31M1442.19 1825.35V1909.13M1451.33 1826.51V1910.14M1460.47 1826.60V1911.06M1469.62 1828.36V1911.08M1478.76 1829.06V1912.10M1487.90 1830.50V1913.37M1497.04 1831.29V1913.81M1506.18 1832.36V1914.28M1515.32 1833.39V1915.38M1524.47 1834.35V1916.80M1533.61 1834.20V1917.52M1542.75 1835.74V1917.30M1551.89 1836.24V1918.56M1561.03 1836.24V1918.87M1570.17 1838.18V1919.08M1579.31 1838.21V1919.03M1588.46 1839.59V1919.98M1597.60 1840.45V1920.29M1606.74 1840.28V1920.37" fill="none" stroke="#133c6d" stroke-width="6.3"/>
<path d="M1024.52 1502.85h12.6M1024.52 1827.77h12.6M1033.66 1620.60h12.6M1033.66 1835.04h12.6M1042.80 1669.40h12.6M1042.80 1840.83h12.6M1051.94 1703.55h12.6M1051.94 1847.32h12.6M1061.09 1725.16h12.6M1061.09 1850.22h12.6M1070.23 1735.57h12.6M1070.23 1853.22h12.6M1079.37 1743.66h12.6M1079.37 1855.37h12.6M1088.51 1753.26h12.6M1088.51 1856.98h12.6M1097.65 1759.63h12.6M1097.65 1859.80h12.6M1106.79 1766.62h12.6M1106.79 1862.40h12.6M1115.94 1771.16h12.6M1115.94 1864.96h12.6M1125.08 1773.53h12.6M1125.08 1866.42h12.6M1134.22 1776.54h12.6M1134.22 1867.40h12.6M1143.36 1779.39h12.6M1143.36 1869.50h12.6M1152.50 1782.43h12.6M1152.50 1871.86h12.6M1161.64 1785.00h12.6M1161.64 1873.42h12.6M1170.79 1787.44h12.6M1170.79 1874.03h12.6M1179.93 1789.28h12.6M1179.93 1876.50h12.6M1189.07 1790.67h12.6M1189.07 1877.03h12.6M1198.21 1792.54h12.6M1198.21 1878.20h12.6M1207.35 1794.17h12.6M1207.35 1879.64h12.6M1216.49 1796.34h12.6M1216.49 1880.70h12.6M1225.63 1797.25h12.6M1225.63 1883.03h12.6M1234.78 1798.99h12.6M1234.78 1883.86h12.6M1243.92 1800.64h12.6M1243.92 1885.83h12.6M1253.06 1801.90h12.6M1253.06 1887.09h12.6M1262.20 1803.17h12.6M1262.20 1888.95h12.6M1271.34 1804.65h12.6M1271.34 1890.64h12.6M1280.48 1805.26h12.6M1280.48 1892.91h12.6M1289.63 1806.96h12.6M1289.63 1893.94h12.6M1298.77 1807.72h12.6M1298.77 1895.84h12.6M1307.91 1809.21h12.6M1307.91 1897.39h12.6M1317.05 1809.48h12.6M1317.05 1898.95h12.6M1326.19 1810.08h12.6M1326.19 1900.17h12.6M1335.33 1810.94h12.6M1335.33 1901.48h12.6M1344.48 1811.88h12.6M1344.48 1902.21h12.6M1353.62 1813.87h12.6M1353.62 1903.26h12.6M1362.76 1815.10h12.6M1362.76 1903.99h12.6M1371.90 1816.95h12.6M1371.90 1905.27h12.6M1381.04 1818.12h12.6M1381.04 1905.18h12.6M1390.18 1819.41h12.6M1390.18 1907.06h12.6M1399.32 1820.54h12.6M1399.32 1907.04h12.6M1408.47 1821.45h12.6M1408.47 1908.28h12.6M1417.61 1822.67h12.6M1417.61 1909.01h12.6M1426.75 1823.80h12.6M1426.75 1909.31h12.6M1435.89 1825.35h12.6M1435.89 1909.13h12.6M1445.03 1826.51h12.6M1445.03 1910.14h12.6M1454.17 1826.60h12.6M1454.17 1911.06h12.6M1463.32 1828.36h12.6M1463.32 1911.08h12.6M1472.46 1829.06h12.6M1472.46 1912.10h12.6M1481.60 1830.50h12.6M1481.60 1913.37h12.6M1490.74 1831.29h12.6M1490.74 1913.81h12.6M1499.88 1832.36h12.6M1499.88 1914.28h12.6M1509.02 1833.39h12.6M1509.02 1915.38h12.6M1518.17 1834.35h12.6M1518.17 1916.80h12.6M1527.31 1834.20h12.6M1527.31 1917.52h12.6M1536.45 1835.74h12.6M1536.45 1917.30h12.6M1545.59 1836.24h12.6M1545.59 1918.56h12.6M1554.73 1836.24h12.6M1554.73 1918.87h12.6M1563.87 1838.18h12.6M1563.87 1919.08h12.6M1573.01 1838.21h12.6M1573.01 1919.03h12.6M1582.16 1839.59h12.6M1582.16 1919.98h12.6M1591.30 1840.45h12.6M1591.30 1920.29h12.6M1600.44 1840.28h12.6M1600.44 1920.37h12.6" fill="none" stroke="#133c6d" stroke-width="5.9"/>
<polyline points="1030.82,1665.87 1039.96,1727.28 1049.10,1755.47 1058.24,1775.42 1067.39,1787.82 1076.53,1794.23 1085.67,1799.40 1094.81,1805.57 1103.95,1810.02 1113.09,1814.33 1122.24,1817.47 1131.38,1819.84 1140.52,1822.14 1149.66,1824.50 1158.80,1826.69 1167.94,1828.87 1177.09,1831.06 1186.23,1832.80 1195.37,1834.28 1204.51,1835.76 1213.65,1837.25 1222.79,1838.73 1231.93,1840.21 1241.08,1841.71 1250.22,1843.23 1259.36,1844.75 1268.50,1846.27 1277.64,1847.79 1286.78,1849.31 1295.93,1850.76 1305.07,1851.91 1314.21,1853.02 1323.35,1854.13 1332.49,1855.24 1341.63,1856.35 1350.78,1857.46 1359.92,1858.58 1369.06,1859.69 1378.20,1860.81 1387.34,1861.93 1396.48,1863.05 1405.62,1864.13 1414.77,1864.93 1423.91,1865.72 1433.05,1866.51 1442.19,1867.30 1451.33,1868.10 1460.47,1868.89 1469.62,1869.78 1478.76,1870.67 1487.90,1871.56 1497.04,1872.45 1506.18,1873.34 1515.32,1874.23 1524.47,1875.13 1533.61,1875.84 1542.75,1876.44 1551.89,1877.04 1561.03,1877.64 1570.17,1878.24 1579.31,1878.84 1588.46,1879.44 1597.60,1880.04 1606.74,1880.64" fill="none" stroke="#133c6d" stroke-width="5.8" stroke-dasharray="24 27.25" stroke-linejoin="round"/>
<rect x="1012.2" y="1492.2" width="673.0" height="496.29999999999995" fill="none" stroke="#404040" stroke-width="2.3"/>
<path d="M1236.53 1988.5v-8M1236.53 1492.2v8M1460.87 1988.5v-8M1460.87 1492.2v8M1012.2 1907.27h8M1685.2 1907.27h-8M1012.2 1824.17h8M1685.2 1824.17h-8M1012.2 1741.08h8M1685.2 1741.08h-8M1012.2 1657.98h8M1685.2 1657.98h-8M1012.2 1574.88h8M1685.2 1574.88h-8" fill="none" stroke="#404040" stroke-width="2"/>
<g font-size="45" fill="#262626">
<text transform="translate(1013.2 2047.0) scale(1 1.1)" text-anchor="middle">0</text>
<text transform="translate(1237.5 2047.0) scale(1 1.1)" text-anchor="middle">10</text>
<text transform="translate(1461.9 2047.0) scale(1 1.1)" text-anchor="middle">20</text>
<text transform="translate(1686.2 2047.0) scale(1 1.1)" text-anchor="middle">30</text>
<text transform="translate(997.7 2007.9) scale(1 1.1)" text-anchor="end">0</text>
<text transform="translate(997.7 1924.8) scale(1 1.1)" text-anchor="end">0.2</text>
<text transform="translate(997.7 1841.7) scale(1 1.1)" text-anchor="end">0.4</text>
<text transform="translate(997.7 1758.6) scale(1 1.1)" text-anchor="end">0.6</text>
<text transform="translate(997.7 1675.5) scale(1 1.1)" text-anchor="end">0.8</text>
<text transform="translate(997.7 1592.4) scale(1 1.1)" text-anchor="end">1</text>
<text transform="translate(997.7 1509.3) scale(1 1.1)" text-anchor="end">1.2</text>
</g>
<text x="1348.7" y="2101.5" font-size="46.5" fill="#262626" text-anchor="middle">Time [ms]</text>
<text x="952" y="1443" font-size="54" fill="#000">(f)</text>
</g>
<linearGradient id="lgb1" gradientUnits="userSpaceOnUse" x1="0" y1="36" x2="0" y2="134"><stop offset="0" stop-color="#fff" stop-opacity="0.62"/><stop offset="0.55" stop-color="#fff" stop-opacity="0.58"/><stop offset="0.85" stop-color="#fff" stop-opacity="0.16"/><stop offset="1" stop-color="#fff" stop-opacity="0.05"/></linearGradient>
<g id="us-b1" transform="translate(1036 296)">
<clipPath id="clipb1"><rect width="167" height="159"/></clipPath>
<linearGradient id="rgb1" gradientUnits="userSpaceOnUse" x1="0" y1="7.0" x2="0" y2="151.0"><stop offset="0" stop-color="#fff" stop-opacity="0.920"/><stop offset="0.45" stop-color="#fff" stop-opacity="0.700"/><stop offset="0.68" stop-color="#fff" stop-opacity="0.380"/><stop offset="0.85" stop-color="#fff" stop-opacity="0.120"/><stop offset="1" stop-color="#fff" stop-opacity="0.030"/></linearGradient>
<rect width="167" height="159" fill="#0b0b0b"/>
<g clip-path="url(#clipb1)">
<g filter="url(#spkG)">
<rect width="167" height="159" fill="#fff" opacity="0.002"/>
<ellipse cx="83" cy="79" rx="65.5" ry="63" fill="none" stroke="url(#rgb1)" stroke-width="18"/>

</g>
<g filter="url(#spkL)">
<rect width="167" height="159" fill="#fff" opacity="0.002"/>
<ellipse cx="83.5" cy="85" rx="53" ry="49" fill="url(#lgb1)"/>
</g>
<g filter="url(#hl)">
<path d="M74.6 8.0 Q84.5 6.8 94.4 8.0" fill="none" stroke="#fff" stroke-width="3.2" stroke-linecap="round" opacity="1.0"/><path d="M77 22.8 Q84.0 21.8 91 22.8" fill="none" stroke="#fff" stroke-width="2.8" stroke-linecap="round" opacity="1.0"/><path d="M71 129.8 Q82.7 131.60000000000002 94.4 129.8" fill="none" stroke="#fff" stroke-width="1.3" stroke-linecap="round" opacity="0.4"/>
</g>
</g></g>
<g id="us-b2" transform="translate(1483 250)">
<clipPath id="clipb2"><rect width="167" height="160"/></clipPath>
<linearGradient id="rgb2" gradientUnits="userSpaceOnUse" x1="0" y1="9.5" x2="0" y2="150.5"><stop offset="0" stop-color="#fff" stop-opacity="0.920"/><stop offset="0.5" stop-color="#fff" stop-opacity="0.700"/><stop offset="1" stop-color="#fff" stop-opacity="0.450"/></linearGradient>
<rect width="167" height="160" fill="#0b0b0b"/>
<g clip-path="url(#clipb2)">
<g filter="url(#spkG)">
<rect width="167" height="160" fill="#fff" opacity="0.002"/>
<ellipse cx="85" cy="80" rx="65.5" ry="61.5" fill="none" stroke="url(#rgb2)" stroke-width="18"/>

</g>
<g filter="url(#spkL)">
<rect width="167" height="160" fill="#fff" opacity="0.002"/>
<ellipse cx="85" cy="86.5" rx="55" ry="50" fill="#fff" opacity="0.60"/>
</g>
<g filter="url(#hl)">
<path d="M76 11.3 Q85.25 10.100000000000001 94.5 11.3" fill="none" stroke="#fff" stroke-width="3.2" stroke-linecap="round" opacity="1.0"/><path d="M79.4 26.6 Q85.2 25.6 91 26.6" fill="none" stroke="#fff" stroke-width="2.8" stroke-linecap="round" opacity="1.0"/><path d="M71.3 133 Q85.8 136.8 100.3 133" fill="none" stroke="#fff" stroke-width="2.0" stroke-linecap="round" opacity="0.8"/>
</g>
</g></g>
<g id="us-d1" transform="translate(1059 1007)">
<clipPath id="clipd1"><rect width="167" height="160"/></clipPath>
<linearGradient id="rgd1" gradientUnits="userSpaceOnUse" x1="0" y1="12.0" x2="0" y2="150.0"><stop offset="0" stop-color="#fff" stop-opacity="0.700"/><stop offset="0.5" stop-color="#fff" stop-opacity="0.500"/><stop offset="1" stop-color="#fff" stop-opacity="0.340"/></linearGradient>
<rect width="167" height="160" fill="#000"/>
<g clip-path="url(#clipd1)">
<g filter="url(#spkR)">
<rect width="167" height="160" fill="#fff" opacity="0.002"/>
<ellipse cx="82" cy="81" rx="67" ry="61.5" fill="none" stroke="url(#rgd1)" stroke-width="15"/>

</g>
<g filter="url(#spkC)">
<rect width="167" height="160" fill="#fff" opacity="0.002"/>
<ellipse cx="82" cy="95.5" rx="46" ry="42" fill="#fff" opacity="0.42"/>
</g>
<g filter="url(#hl)">
<path d="M71.3 12.8 Q81.75 11.600000000000001 92.2 12.8" fill="none" stroke="#fff" stroke-width="3.2" stroke-linecap="round" opacity="1.0"/><path d="M74.8 27.0 Q81.19999999999999 26.0 87.6 27.0" fill="none" stroke="#fff" stroke-width="2.8" stroke-linecap="round" opacity="1.0"/><path d="M66 134.9 Q80.5 139.5 95 134.9" fill="none" stroke="#fff" stroke-width="2.6" stroke-linecap="round" opacity="1.0"/><path d="M66.6 152 Q79.4 153.8 92.2 152" fill="none" stroke="#fff" stroke-width="1.6" stroke-linecap="round" opacity="0.4"/>
</g>
</g></g>
<g id="us-d2" transform="translate(1483 1021)">
<clipPath id="clipd2"><rect width="167" height="159"/></clipPath>
<linearGradient id="rgd2" gradientUnits="userSpaceOnUse" x1="0" y1="11.0" x2="0" y2="149.0"><stop offset="0" stop-color="#fff" stop-opacity="0.700"/><stop offset="0.5" stop-color="#fff" stop-opacity="0.500"/><stop offset="1" stop-color="#fff" stop-opacity="0.340"/></linearGradient>
<rect width="167" height="159" fill="#000"/>
<g clip-path="url(#clipd2)">
<g filter="url(#spkR)">
<rect width="167" height="159" fill="#fff" opacity="0.002"/>
<ellipse cx="84" cy="80" rx="67" ry="61.5" fill="none" stroke="url(#rgd2)" stroke-width="15"/>

</g>
<g filter="url(#spkC)">
<rect width="167" height="159" fill="#fff" opacity="0.002"/>
<ellipse cx="84" cy="93.5" rx="46" ry="42" fill="#fff" opacity="0.40"/>
</g>
<g filter="url(#hl)">
<path d="M73 10.7 Q83.75 9.5 94.5 10.7" fill="none" stroke="#fff" stroke-width="3.2" stroke-linecap="round" opacity="1.0"/><path d="M77 26.1 Q82.85 25.1 88.7 26.1" fill="none" stroke="#fff" stroke-width="2.8" stroke-linecap="round" opacity="1.0"/><path d="M68.4 132.8 Q83.80000000000001 137.4 99.2 132.8" fill="none" stroke="#fff" stroke-width="2.6" stroke-linecap="round" opacity="1.0"/><path d="M69 149.5 Q81.75 151.3 94.5 149.5" fill="none" stroke="#fff" stroke-width="1.6" stroke-linecap="round" opacity="0.4"/>
</g>
</g></g>
<g id="us-e1" transform="translate(264 1552)">
<clipPath id="clipe1"><rect width="167" height="159"/></clipPath>
<linearGradient id="rge1" gradientUnits="userSpaceOnUse" x1="0" y1="9.5" x2="0" y2="146.5"><stop offset="0" stop-color="#fff" stop-opacity="0.950"/><stop offset="0.5" stop-color="#fff" stop-opacity="0.800"/><stop offset="1" stop-color="#fff" stop-opacity="0.740"/></linearGradient>
<rect width="167" height="159" fill="#000"/>
<g clip-path="url(#clipe1)">
<g filter="url(#spkR)">
<rect width="167" height="159" fill="#fff" opacity="0.002"/>
<ellipse cx="82.5" cy="78" rx="64" ry="61" fill="none" stroke="url(#rge1)" stroke-width="15"/>

</g>
<g filter="url(#spkL)">
<rect width="167" height="159" fill="#fff" opacity="0.002"/>
<path d="M86 62 C98 70 92 84 97 98 C100 112 96 120 94 124 L74 124 C74 112 70 100 75 88 C79 78 76 68 86 62Z" fill="#fff" opacity="0.42"/>
</g>
<g filter="url(#hl)">
<path d="M73 9.5 Q84.35 7.9 95.7 9.5" fill="none" stroke="#fff" stroke-width="3.4" stroke-linecap="round" opacity="1.0"/><path d="M76.5 23.2 Q82.05 22.2 87.6 23.2" fill="none" stroke="#fff" stroke-width="2.8" stroke-linecap="round" opacity="1.0"/><path d="M66.6 127.9 Q82.3 132.5 98 127.9" fill="none" stroke="#fff" stroke-width="4.0" stroke-linecap="round" opacity="1.0"/>
</g>
</g></g>
<g id="us-e2" transform="translate(642 1712)">
<clipPath id="clipe2"><rect width="167" height="159"/></clipPath>
<linearGradient id="rge2" gradientUnits="userSpaceOnUse" x1="0" y1="9.0" x2="0" y2="146.0"><stop offset="0" stop-color="#fff" stop-opacity="0.840"/><stop offset="0.5" stop-color="#fff" stop-opacity="0.640"/><stop offset="1" stop-color="#fff" stop-opacity="0.660"/></linearGradient>
<rect width="167" height="159" fill="#000"/>
<g clip-path="url(#clipe2)">
<g filter="url(#spkR)">
<rect width="167" height="159" fill="#fff" opacity="0.002"/>
<ellipse cx="82.5" cy="77.5" rx="64" ry="61" fill="none" stroke="url(#rge2)" stroke-width="15"/>

</g>
<g filter="url(#hl)">
<path d="M74 8.5 Q83.65 7.1 93.3 8.5" fill="none" stroke="#fff" stroke-width="3.2" stroke-linecap="round" opacity="1.0"/><path d="M78 22.1 Q82.7 21.3 87.4 22.1" fill="none" stroke="#fff" stroke-width="2.6" stroke-linecap="round" opacity="1.0"/><path d="M68.8 125.8 Q82.75 129.4 96.7 125.8" fill="none" stroke="#fff" stroke-width="3.6" stroke-linecap="round" opacity="1.0"/>
</g>
</g></g>
<g id="us-f1" transform="translate(1064 1513)">
<clipPath id="clipf1"><rect width="168" height="159"/></clipPath>
<linearGradient id="rgf1" gradientUnits="userSpaceOnUse" x1="0" y1="9.0" x2="0" y2="143.0"><stop offset="0" stop-color="#fff" stop-opacity="1.000"/><stop offset="0.5" stop-color="#fff" stop-opacity="0.860"/><stop offset="1" stop-color="#fff" stop-opacity="0.760"/></linearGradient>
<rect width="168" height="159" fill="#000"/>
<g clip-path="url(#clipf1)">
<g filter="url(#spkR)">
<rect width="168" height="159" fill="#fff" opacity="0.002"/>
<ellipse cx="80.5" cy="76" rx="63.3" ry="60" fill="none" stroke="url(#rgf1)" stroke-width="14"/>

</g>
<g filter="url(#spkL)">
<rect width="168" height="159" fill="#fff" opacity="0.002"/>
<ellipse cx="80" cy="76" rx="47" ry="44" fill="#fff" opacity="0.38"/>
</g>
<g filter="url(#hl)">
<path d="M59.5 9.8 Q76.95 5.800000000000001 94.4 9.8" fill="none" stroke="#fff" stroke-width="2.0" stroke-linecap="round" opacity="1.0"/><path d="M64 24.0 Q76.3 22.2 88.6 24.0" fill="none" stroke="#fff" stroke-width="2.6" stroke-linecap="round" opacity="1.0"/><path d="M65 125.5 Q82.0 131.9 99 125.5" fill="none" stroke="#fff" stroke-width="3.4" stroke-linecap="round" opacity="1.0"/><path d="M67.7 141.2 Q85.1 146.39999999999998 102.5 141.2" fill="none" stroke="#fff" stroke-width="2.4" stroke-linecap="round" opacity="0.6"/>
</g>
</g></g>
<g id="us-f2" transform="translate(1471 1654)">
<clipPath id="clipf2"><rect width="167" height="160"/></clipPath>
<linearGradient id="rgf2" gradientUnits="userSpaceOnUse" x1="0" y1="9.5" x2="0" y2="144.5"><stop offset="0" stop-color="#fff" stop-opacity="1.000"/><stop offset="0.5" stop-color="#fff" stop-opacity="0.860"/><stop offset="1" stop-color="#fff" stop-opacity="0.760"/></linearGradient>
<rect width="167" height="160" fill="#000"/>
<g clip-path="url(#clipf2)">
<g filter="url(#spkR)">
<rect width="167" height="160" fill="#fff" opacity="0.002"/>
<ellipse cx="86.5" cy="77" rx="63.5" ry="60.5" fill="none" stroke="url(#rgf2)" stroke-width="14"/>

</g>
<g filter="url(#spkL)">
<rect width="167" height="160" fill="#fff" opacity="0.002"/>
<ellipse cx="86" cy="80" rx="45" ry="42" fill="#fff" opacity="0.28"/>
</g>
<g filter="url(#hl)">
<path d="M72.3 9.6 Q86.25 6.6 100.2 9.6" fill="none" stroke="#fff" stroke-width="2.2" stroke-linecap="round" opacity="1.0"/><path d="M77 24.4 Q86.3 22.599999999999998 95.6 24.4" fill="none" stroke="#fff" stroke-width="2.6" stroke-linecap="round" opacity="1.0"/><path d="M75.8 127.3 Q89.19999999999999 132.1 102.6 127.3" fill="none" stroke="#fff" stroke-width="3.4" stroke-linecap="round" opacity="1.0"/><path d="M73.5 143.5 Q90.35 148.5 107.2 143.5" fill="none" stroke="#fff" stroke-width="2.4" stroke-linecap="round" opacity="0.65"/>
</g>
</g></g>
</svg></body></html>
